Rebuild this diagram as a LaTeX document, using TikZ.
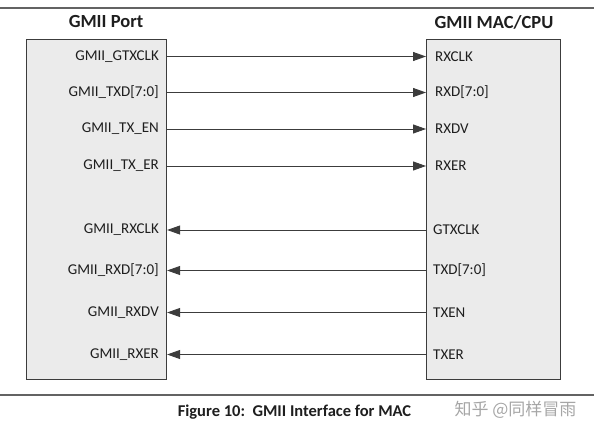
\documentclass[tikz,border=0pt]{standalone}
\usepackage{fontspec}
\setmainfont{Carlito}
\newfontfamily\cjk{Noto Sans CJK SC}
\usetikzlibrary{arrows.meta}
\definecolor{boxfill}{HTML}{EBEBEB}
\definecolor{boxline}{HTML}{3C3C3C}
\definecolor{txt}{HTML}{1E1E1E}
\begin{document}
\begin{tikzpicture}[x=1pt,y=-1pt,
  blockbox/.style={draw=boxline,line width=1.1pt,fill=boxfill,inner sep=0pt,anchor=north west},
  lefttxt/.style={anchor=east,inner sep=0pt,text=txt,font=\fontsize{15}{17}\selectfont},
  righttxt/.style={anchor=west,inner sep=0pt,text=txt,font=\fontsize{15}{17}\selectfont},
  titletxt/.style={inner sep=0pt,text=txt,font=\bfseries\fontsize{18.5}{20}\selectfont},
  sig/.style={draw=boxline,line width=0.9pt,-{Triangle[length=13pt,width=9pt]}},
  rule/.style={draw=boxline!80,line width=1.4pt}]
\useasboundingbox (0,0) rectangle (594,436);
\coordinate (tl) at (0,8);
\coordinate (tr) at (594,8);
\coordinate (bl) at (0,395);
\coordinate (br) at (594,395);
\draw[rule] (tl) -- (tr);
\draw[rule] (bl) -- (br);
\node[blockbox,minimum width=140pt,minimum height=340pt] (lbox) at (26,39) {};
\node[blockbox,minimum width=134pt,minimum height=340pt] (rbox) at (426,39) {};
\node[titletxt] (lt) at (106,22) {GMII Port};
\node[titletxt] (rt) at (494,22) {GMII MAC/CPU};
% left labels
\node[lefttxt] (l1) at (159,56.5) {GMII\_GTXCLK};
\node[lefttxt] (l2) at (159,92.5) {GMII\_TXD[7:0]};
\node[lefttxt] (l3) at (159,129) {GMII\_TX\_EN};
\node[lefttxt] (l4) at (159,166) {GMII\_TX\_ER};
\node[lefttxt] (l5) at (159,230) {GMII\_RXCLK};
\node[lefttxt] (l6) at (159,270.5) {GMII\_RXD[7:0]};
\node[lefttxt] (l7) at (159,312.5) {GMII\_RXDV};
\node[lefttxt] (l8) at (159,354.5) {GMII\_RXER};
% right labels
\node[righttxt] (r1) at (435,56.5) {RXCLK};
\node[righttxt] (r2) at (435,92.5) {RXD[7:0]};
\node[righttxt] (r3) at (435,129) {RXDV};
\node[righttxt] (r4) at (435,166) {RXER};
\node[righttxt] (r5) at (433,230) {GTXCLK};
\node[righttxt] (r6) at (433,270.5) {TXD[7:0]};
\node[righttxt] (r7) at (433,312.5) {TXEN};
\node[righttxt] (r8) at (433,354.5) {TXER};
% connectors
\foreach \i in {1,2,3,4}{
  \draw[sig] (lbox.east |- l\i) -- (rbox.west |- r\i);
}
\foreach \i in {5,6,7,8}{
  \draw[sig] (rbox.west |- r\i) -- (lbox.east |- l\i);
}
\node[titletxt,font=\bfseries\fontsize{16.5}{18}\selectfont] (cap) at (294.5,412) {Figure 10:\ \ GMII Interface for MAC};
\node[inner sep=0pt,text=black!35,font=\cjk\fontsize{17}{19}\selectfont] (wm) at (515.5,410) {知乎 @同样冒雨};
\end{tikzpicture}
\end{document}
